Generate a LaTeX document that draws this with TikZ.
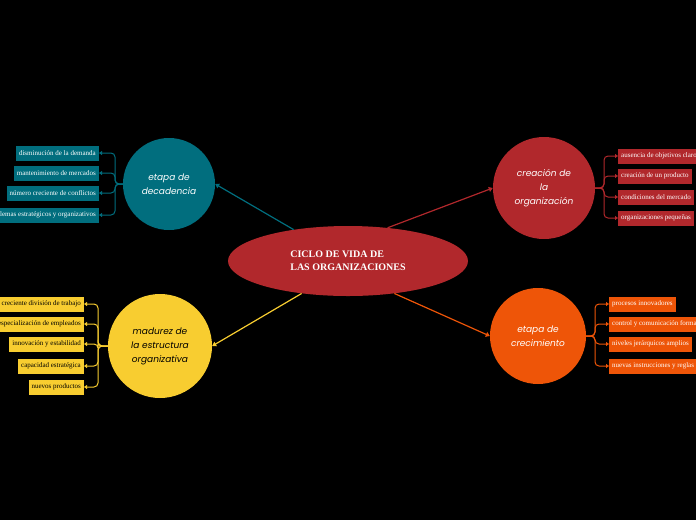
\documentclass[tikz,border=0pt]{standalone}
\usepackage{fontspec}
\setmainfont{Liberation Serif}
\newfontfamily\hand{Poppins}
\usetikzlibrary{arrows.meta,shapes.geometric}
\definecolor{teal}{HTML}{016E7E}
\definecolor{cred}{HTML}{B1282C}
\definecolor{corange}{HTML}{EE5508}
\definecolor{cyellow}{HTML}{F8CD30}
\begin{document}
\begin{tikzpicture}[x=1pt,y=-1pt,
 circ/.style={circle,minimum size=#1,inner sep=0pt,align=center,font=\hand\fontsize{9}{14}\selectfont\itshape},
 lbox/.style={anchor=east,minimum height=15,inner sep=3pt,font=\fontsize{7}{8}\selectfont},
 rbox/.style={anchor=west,minimum height=15,inner sep=3pt,font=\fontsize{7}{8}\selectfont},
 link/.style={line width=1.2pt,-{Triangle[length=4pt,width=5pt]}},
 br/.style={line width=1pt,rounded corners=4pt,-{Triangle[length=3pt,width=4pt]}}]
\useasboundingbox (0,0) rectangle (696,520);
\fill[black] (0,0) rectangle (696,520);
\clip (0,0) rectangle (696,520);
\node[ellipse,fill=cred,minimum width=240,minimum height=70,inner sep=0pt,text=white,align=left,font=\bfseries\fontsize{10}{13}\selectfont] (c) at (348,261) {CICLO DE VIDA DE\\LAS ORGANIZACIONES};
\node[circ=92,fill=teal,text=white] (d) at (169,184) {etapa de\\decadencia};
\node[circ=104,fill=cyellow,text=black] (m) at (160,346) {madurez de\\la estructura\\organizativa};
\node[circ=102,fill=cred,text=white] (o) at (544,188) {creación de\\la\\organización};
\node[circ=96,fill=corange,text=white] (g) at (538,336) {etapa de\\crecimiento};
\draw[link,teal] (c.150) -- (d.east);
\draw[link,cyellow] (c.215) -- (m.east);
\draw[link,cred] (c.40) -- (o.west);
\draw[link,corange] (c.-35) -- (g.west);
% teal boxes
\foreach \t/\y/\n in {disminución de la demanda/153/d1,mantenimiento de mercados/173/d2,número creciente de conflictos/193/d3,problemas estratégicos y organizativos/215/d4}
 \node[lbox,fill=teal,text=white] (\n) at (99,\y) {\t};
\coordinate (dj) at (115,184);
\foreach \n in {d1,d2,d3,d4} \draw[br,teal] (d.west) -- (dj) |- (\n.east);
% yellow boxes
\foreach \t/\y/\n in {creciente división de trabajo/304/m1,especialización de empleados/324/m2,innovación y estabilidad/344/m3,capacidad estratégica/366/m4,nuevos productos/387/m5}
 \node[lbox,fill=cyellow,text=black] (\n) at (84,\y) {\t};
\coordinate (mj) at (98,346);
\foreach \n in {m1,m2,m3,m4,m5} \draw[br,cyellow] (m.west) -- (mj) |- (\n.east);
% red boxes
\foreach \t/\y/\n in {ausencia de objetivos claros/156/o1,creación de un producto/176/o2,condiciones del mercado/197/o3,organizaciones pequeñas/218/o4}
 \node[rbox,fill=cred,text=white] (\n) at (618,\y) {\t};
\coordinate (oj) at (604,188);
\foreach \n in {o1,o2,o3,o4} \draw[br,cred] (o.east) -- (oj) |- (\n.west);
% orange boxes
\foreach \t/\y/\n in {procesos innovadores/304/g1,control y comunicación formal/324/g2,niveles jerárquicos amplios/344/g3,nuevas instrucciones y reglas/366/g4}
 \node[rbox,fill=corange,text=white] (\n) at (609,\y) {\t};
\coordinate (gj) at (595,336);
\foreach \n in {g1,g2,g3,g4} \draw[br,corange] (g.east) -- (gj) |- (\n.west);
\end{tikzpicture}
\end{document}
